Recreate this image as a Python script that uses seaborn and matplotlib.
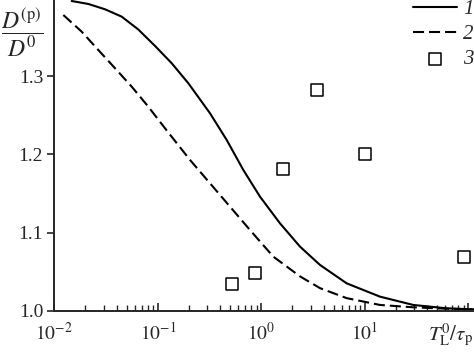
import numpy as np
import matplotlib
matplotlib.use('Agg')
import matplotlib.pyplot as plt
import seaborn as sns
from matplotlib.ticker import LogLocator, NullFormatter

# ── data ─────────────────────────────────────────────────────────────────
curve1_x = [0.01472, 0.02131, 0.0309, 0.04479, 0.0648, 0.09395, 0.1362,
            0.1971, 0.3193, 0.463, 0.6701, 0.9714, 1.516, 2.365,
            3.69, 6.685, 14.03, 29.42, 61.85, 111.8]
curve1_y = [1.3959, 1.3921, 1.3853, 1.3759, 1.3595, 1.3385, 1.3164,
            1.2909, 1.2525, 1.2184, 1.1801, 1.1460, 1.1119, 1.0822,
            1.0588, 1.0353, 1.0183, 1.0077, 1.0034, 1.0021]

curve2_x = [0.01222, 0.01839, 0.02661, 0.03859, 0.05594, 0.08093, 0.1174,
            0.2047, 0.3193, 0.4982, 0.7776, 1.306, 2.365, 3.69, 6.685,
            14.03, 29.42, 61.85, 111.8]
curve2_y = [1.3780, 1.3567, 1.3333, 1.3100, 1.2865, 1.2609, 1.2333,
            1.1929, 1.1631, 1.1333, 1.1034, 1.0694, 1.0442, 1.0292, 1.0164,
            1.0077, 1.0047, 1.0029, 1.0021]

exp_x = [0.52, 0.87, 1.61, 3.43, 9.98, 90.3]
exp_y = [1.035, 1.049, 1.181, 1.282, 1.200, 1.069]

yticks = [1.0, 1.1, 1.2, 1.3, 1.4]
ytick_labels = ['1.0', '1.1', '1.2', '1.3', '']
xticks = [1e-2, 1e-1, 1e0, 1e1, 1e2]
xtick_labels = ['$10^{-2}$', '$10^{-1}$', '$10^{0}$', '$10^{1}$', '']

# ── style ────────────────────────────────────────────────────────────────
sns.set_style('ticks')
plt.rcParams['font.family'] = ['Liberation Serif', 'DejaVu Serif']
plt.rcParams['mathtext.fontset'] = 'stix'

fig = plt.figure(figsize=(4.74, 3.52), dpi=100)
ax = fig.add_axes([0.1146, 0.1165, 0.8854, 0.8898])

sns.lineplot(x=curve1_x, y=curve1_y, ax=ax, color='black', lw=1.5,
             label='1', estimator=None, sort=False)
sns.lineplot(x=curve2_x, y=curve2_y, ax=ax, color='black', lw=1.5,
             label='2', estimator=None, sort=False)
ax.lines[-1].set_dashes((5.3, 2.4))
sns.scatterplot(x=exp_x, y=exp_y, ax=ax, marker='s', s=64,
                facecolor='white', edgecolor='black', linewidth=1.1,
                label='3', zorder=3)

ax.set_xscale('log')
ax.set_xlim(1e-2, 10 ** 2.055)
ax.set_ylim(1.0, 1.4)
ax.set_xticks(xticks)
ax.set_xticklabels(xtick_labels)
ax.xaxis.set_minor_locator(LogLocator(base=10, subs=np.arange(2, 10), numticks=20))
ax.xaxis.set_minor_formatter(NullFormatter())
ax.set_yticks(yticks)
ax.set_yticklabels(ytick_labels)

ax.tick_params(axis='x', which='major', direction='in', length=6, width=1.2,
               labelsize=14, pad=8)
ax.tick_params(axis='x', which='minor', direction='in', length=4, width=1.0)
ax.tick_params(axis='y', which='major', direction='out', length=5, width=1.2,
               labelsize=14, pad=3)
for s in ['top', 'right']:
    ax.spines[s].set_visible(False)
for s in ['left', 'bottom']:
    ax.spines[s].set_linewidth(1.4)
ax.set_xlabel('')
ax.set_ylabel('')

ax.text(0.945, -0.077, r'$T_{\mathrm{L}}^{0}/\tau_{\mathrm{p}}$', transform=ax.transAxes,
        ha='center', va='center', fontsize=15, clip_on=False)
ax.text(-0.076, 0.888, r'$\dfrac{D^{(\mathrm{p})}}{D^{0}}$', transform=ax.transAxes,
        ha='center', va='center', fontsize=17, clip_on=False)

ax.legend(loc='upper left', bbox_to_anchor=(0.82, 1.04), frameon=False,
          prop={'style': 'italic', 'size': 15}, handlelength=2.1,
          handletextpad=0.3, labelspacing=0.25, borderpad=0.2)

fig.savefig('out.png', dpi=100)
